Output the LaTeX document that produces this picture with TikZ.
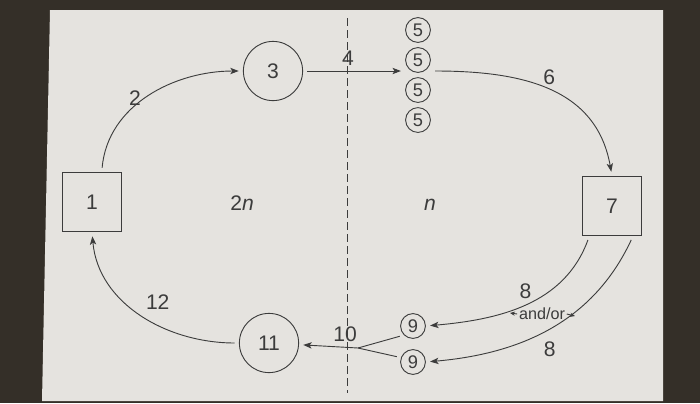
\documentclass[tikz,border=0pt]{standalone}
\usepackage{fontspec}
\setmainfont{Liberation Sans}
\usepackage{tikz}
\usetikzlibrary{arrows, arrows.meta}
\definecolor{ink}{RGB}{60,60,60}
\definecolor{paper}{RGB}{229,227,223}
\definecolor{bezel}{RGB}{52,47,40}
\tikzset{
		box state/.style={draw,rectangle,minimum size=1.48cm,inner sep=0pt},
		big state/.style={draw,circle,minimum size=1.48cm,inner sep=0pt},
		small state/.style={draw,circle,minimum size=0.62cm,inner sep=0pt,font=\fontsize{13}{15}\selectfont},
		divider/.style={dash pattern=on 0.2cm off 0.1cm},
		tiny tip/.style={-{Stealth[length=3.5pt,width=3pt]},shorten >=0pt,shorten <=0pt}
	}

\begin{document}
\begin{tikzpicture}[x=0.025cm,y=-0.025cm,>={Stealth[length=6pt,width=4.5pt,inset=1.5pt]},shorten >=3pt,shorten <=3pt,auto,node distance=0.75cm,
		color=ink,line width=0.65pt,every node/.style={font=\fontsize{15}{18}\selectfont}]
				\useasboundingbox (0,0) rectangle (700,403);
				\fill[bezel] (0,0) rectangle (700,403);
				\fill[paper] (50,10) -- (663,10) -- (663,401) -- (42,401) -- cycle;

				\node[box state]   (s1)  at (92,202)  {1};
				\node[big state]   (s3)  at (273,71)  {3};
				\node[small state] (s5a) at (418,30)  {5};
				\node[small state] (s5b) [below of = s5a] {5};
				\node[small state] (s5c) [below of = s5b] {5};
				\node[small state] (s5d) [below of = s5c] {5};
				\node[box state]   (s7)  at (612,206) {7};
				\node[small state] (s9a) at (413,326) {9};
				\node[small state] (s9b) at (413,362) {9};
				\node[big state]   (s11) at (269,343) {11};

				\node (half) at (242,203) {2\textit{n}};
				\node (full) at (430,205) {\textit{n}};
				\node[font=\fontsize{11.5}{13}\selectfont,inner sep=1pt] (andor) at (542,314) {and/or};

				\coordinate (cut top) at (347,14);
				\coordinate (cut bot) at (347,397);
				\coordinate (join)    at (358,348);
				\coordinate (or1)     at (510,313);
				\coordinate (or2)     at (575,316);

				\draw[divider] (cut top) -- (cut bot);

				\path[->] (s1.72)         edge [out=85,in=180]   node [left,pos=.48] {2} (s3);
				\path[->] (s3.east)       edge                   node [above,pos=.44] {4} (s3 -| s5b.west);
				\path[->] (s3 -| s5b.east) edge [out=0,in=100,looseness=1.1] node [above] {6} (s7.north);
				\path[->] (s7.233)        edge [out=250,in=5]    node [above] {8} (s9a.east);
				\path[->] (s7.305)        edge [out=245,in=5]    node [below=2mm] {8} (s9b.east);
				\draw[shorten >=0pt] (s9a.225) -- (join);
				\draw[shorten >=0pt] (s9b.160) -- (join);
				\path[->, shorten <=0pt] (join) edge node [above,pos=.22] {10} (s11);
				\path[->] (s11.west)      edge [out=180,in=-85]  node [above right,pos=.5] {12} (s1.south);

				\draw[tiny tip] (andor.west) -- (or1);
				\draw[tiny tip] (andor.east) -- (or2);
			\end{tikzpicture}
\end{document}
